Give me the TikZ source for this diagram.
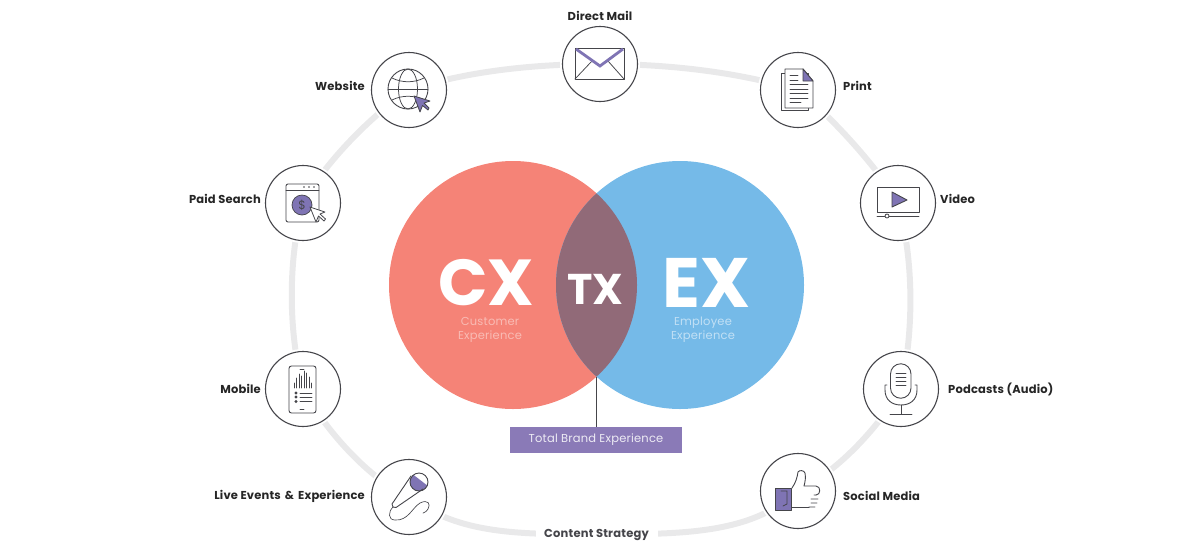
\documentclass[tikz,border=0pt]{standalone}
\usepackage{fontspec}
\setmainfont{Poppins}
\usetikzlibrary{backgrounds}
\definecolor{cxred}{HTML}{F58377}
\definecolor{exblue}{HTML}{75BAE8}
\definecolor{txlens}{HTML}{916A78}
\definecolor{tbe}{HTML}{8A7AB7}
\definecolor{ink}{HTML}{45454A}
\definecolor{ringc}{HTML}{E9E9EA}
\definecolor{pur}{HTML}{7F74B4}
\tikzset{
 x=1pt,y=-1pt,
 iconc/.style={circle,draw=ink,line width=1.1pt,fill=white,minimum size=75pt,inner sep=0pt,outer sep=0pt,preaction={draw=white,line width=5pt}},
 big/.style={circle,minimum size=248pt,inner sep=0pt,outer sep=0pt},
 ring/.style={draw=ringc,line width=6pt},
 lab/.style={font=\fontsize{11.5}{13}\selectfont\bfseries\addfontfeatures{LetterSpace=1.5},text=black!85,inner sep=0pt},
 sublab/.style={font=\fontsize{11.5}{13}\selectfont\addfontfeatures{LetterSpace=1.8},inner sep=0pt,anchor=base},
 ic/.style={draw=ink,line width=.9pt,line join=round,line cap=round},
 thin/.style={draw=ink,line width=.75pt,line cap=round},
 pf/.style={fill=pur},
}
\begin{document}
\begin{tikzpicture}
\useasboundingbox (0,0) rectangle (1200,550);
% icon circles
\node[iconc] (mail) at (600,64) {};
\node[iconc] (print) at (798,90) {};
\node[iconc] (video) at (898,203) {};
\node[iconc] (pod) at (901,389) {};
\node[iconc] (social) at (798,491) {};
\node[iconc] (live) at (409,497) {};
\node[iconc] (mobile) at (303,389) {};
\node[iconc] (paid) at (303,203) {};
\node[iconc] (web) at (409,90) {};
\node[fill=white,inner sep=0pt,minimum width=122pt,minimum height=14pt,font=\fontsize{11.5}{13}\selectfont\bfseries\addfontfeatures{LetterSpace=1.8},text=ink] (cs) at (596.500,534.500) {Content Strategy};
% ring
\begin{scope}[on background layer]
\draw[ring] (mail.center) .. controls (660,64) and (730,70) .. (print.center);
\draw[ring] (print.center) .. controls (830,115) and (880,170) .. (video.center);
\draw[ring] (video.center) .. controls (914,260) and (914,330) .. (pod.center);
\draw[ring] (pod.center) .. controls (880,425) and (840,470) .. (social.center);
\draw[ring] (social.center) .. controls (750,535) and (680,534) .. (cs.center);
\draw[ring] (cs.center) .. controls (520,534) and (460,535) .. (live.center);
\draw[ring] (live.center) .. controls (370,480) and (325,430) .. (mobile.center);
\draw[ring] (mobile.center) .. controls (288,330) and (288,260) .. (paid.center);
\draw[ring] (paid.center) .. controls (320,170) and (365,120) .. (web.center);
\draw[ring] (web.center) .. controls (470,70) and (540,64) .. (mail.center);
\end{scope}
% venn
\node[big,fill=cxred] (cx) at (513,285) {};
\node[big,fill=exblue] (ex) at (680,285) {};
\begin{scope}
\clip (513,285) circle (124pt);
\fill[txlens] (680,285) circle (124pt);
\end{scope}
\coordinate (lensb) at (596,377);
\node[font=\fontsize{65}{65}\selectfont\bfseries,text=white,inner sep=0pt] (cxt) at (486,282.500) {CX};
\node[font=\fontsize{70}{70}\selectfont\bfseries,text=white,inner sep=0pt] (ext) at (706.500,282.500) {EX};
\node[font=\fontsize{43}{43}\selectfont\bfseries,text=white,inner sep=0pt] (txt) at (595.500,289.500) {TX};
\node[sublab,text=cxred!55!white] (cxs1) at (490,325) {Customer};
\node[sublab,text=cxred!55!white] (cxs2) at (490,339.500) {Experience};
\node[sublab,text=exblue!45!white] (exs1) at (703,325) {Employee};
\node[sublab,text=exblue!45!white] (exs2) at (703,339.500) {Experience};
\node[fill=tbe,minimum width=172pt,minimum height=26pt,inner sep=0pt,outer sep=0pt,font=\fontsize{11.5}{13}\selectfont\addfontfeatures{LetterSpace=1.8},text=white!85!tbe] (tb) at (596,440) {Total Brand Experience};
\draw[ink,line width=1pt] (lensb) -- (tb.north);
% labels
\node[lab,anchor=south] (l1) at (600,21) {Direct Mail};
\node[lab,anchor=east] (l2) at (365,86) {Website};
\node[lab,anchor=east] (l3) at (261,198.500) {Paid Search};
\node[lab,anchor=east] (l4) at (261,389) {Mobile};
\node[lab,anchor=east] (l5) at (365,496) {Live Events\hspace{1.5pt} \&\hspace{1.5pt} Experience};
\node[lab,anchor=west] (l6) at (843,86) {Print};
\node[lab,anchor=west] (l7) at (940,198.500) {Video};
\node[lab,anchor=west] (l8) at (948,389) {Podcasts (Audio)};
\node[lab,anchor=west] (l9) at (843,496) {Social Media};
% mail icon
\draw[ic] (575,48) rectangle (624,79);
\draw[thin] (575,79) -- (592,61) (624,79) -- (608,61);
\draw[pur,line width=2.8pt,line join=miter] (576,49) -- (600,66) -- (623,49);
% print icon
\draw[ic,fill=white] (781,73) rectangle (808,110);
\draw[ic,fill=white] (785,69) -- (803,69) -- (813,81) -- (813,108) -- (785,108) -- cycle;
\draw[ic,pf] (803,69) -- (813,81) -- (803,81) -- cycle;
\draw[thin] (790,75) -- (798,75) (790,80) -- (798,80) (790,84) -- (808,84) (790,89) -- (808,89) (790,93) -- (808,93) (790,98) -- (808,98) (790,102) -- (801,102);
% web icon
\draw[ic] (408,89) circle (20pt);
\draw[thin] (408,89) ellipse (9.500pt and 20pt);
\draw[thin] (388,89) -- (428,89);
\draw[thin] (392,78) .. controls (402,83) and (414,83) .. (424,78);
\draw[thin] (392,100) .. controls (402,95) and (414,95) .. (424,100);
\draw[ink,line width=.8pt,fill=pur,line join=round] (414,96) -- (420,112) -- (422.500,105.500) -- (428,110) -- (429,108) -- (424,103) -- (430,101) -- cycle;
% paid icon
\draw[ic,rounded corners=2pt] (286,184) rectangle (319,222);
\draw[thin] (286,190) -- (319,190);
\fill[ink] (304,187) circle (.9pt) (309,187) circle (.9pt) (314,187) circle (.9pt);
\node[circle,draw=ink,line width=.7pt,fill=pur,minimum size=20pt,inner sep=0pt,font=\fontsize{12}{12}\selectfont,text=ink] (coin) at (302,205) {\$};
\draw[ink,line width=.8pt,fill=white,line join=round] (310,207) -- (316,222) -- (318.500,216) -- (324,221) -- (325.500,219) -- (320,214) -- (325,212) -- cycle;
% video icon
\draw[ic] (877,187) rectangle (919,212);
\draw[ic,pf] (892,192) -- (907,200) -- (892,207) -- cycle;
\draw[thin] (877,216) -- (919,216);
\draw[ink,line width=.8pt,fill=white] (887,216) circle (2pt);
% podcast icon
\draw[ic] (890.500,374) arc (180:0:10.250pt) -- (911,388) arc (0:-180:10.250pt) -- cycle;
\draw[thin] (896,373) -- (906,373) (896,377) -- (906,377) (896,381) -- (906,381) (896,385) -- (906,385);
\draw[ic] (887,385) -- (885,385) -- (885,390) .. controls (885,400) and (892,405) .. (901,405) .. controls (910,405) and (917,400) .. (917,390) -- (917,385) -- (915,385);
\draw[ic] (901,405) -- (901,414) (890,414) -- (912,414);
% mobile icon
\draw[ic,rounded corners=2.500pt] (289,366) rectangle (316,413);
\draw[thin] (300,369) -- (304,369) (300,409) -- (304,409);
\foreach \x/\h in {294/5,296.500/10,299/14,301.500/12,304/17,306.500/15,309/11,311.500/5}{\draw[thin] (\x,388) -- ++(0,-\h);}
\fill[ink] (296,393) circle (1.700pt) (296,397) circle (1.700pt) (296,401.500) circle (1.700pt);
\draw[thin] (300,393) -- (312,393) (300,397) -- (312,397) (300,401.500) -- (312,401.500);
% live icon
\fill[white] (419,482) circle (9pt);
\begin{scope}
\clip (419,482) circle (9pt);
\fill[pur] (411,473) -- (428,486) -- (428,495) -- (405,495) -- (405,473) -- cycle;
\end{scope}
\draw[ic] (419,482) circle (9pt);
\draw[ic] (411,476) -- (392,504) -- (393,507) -- (396,507.500) -- (423,489);
\draw[thin,line width=.65pt] (393,507) .. controls (388,512) and (388,520) .. (395,520) .. controls (408,521) and (412,508) .. (420,503) .. controls (428,499) and (431,504) .. (428,509) .. controls (426,512) and (425,512) .. (423,513);
% social icon
\draw[ic,pf] (775.500,488.500) rectangle (791,510);
\draw[thin] (781,491) -- (787,491) -- (787,504) -- (783,506);
\draw[ic] (792,488) .. controls (796,482) and (797,478) .. (798,472) .. controls (799,470) and (804,470) .. (805,473) .. controls (806,478) and (805,482) .. (804,486) -- (816,486) .. controls (821,486) and (821,495) .. (816,495);
\draw[ic] (816,495) -- (814,495) (818,499) -- (811,499) (817,503) -- (811,503) (815,507) -- (810,507) -- (808,507.500) -- (792,507.500);
\end{tikzpicture}
\end{document}
